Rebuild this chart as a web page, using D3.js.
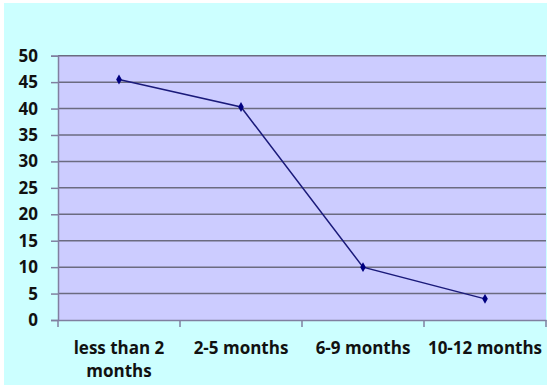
<!DOCTYPE html>
<html>
<head>
<meta charset="utf-8">
<script src="https://cdn.jsdelivr.net/npm/d3@7"></script>
<style>
  body { margin: 0; background: #ffffff; }
  svg { display: block; }
</style>
</head>
<body>
<svg id="chart"></svg>
<script>
const width = 550;
const height = 390;

const categories = ["less than 2 months", "2-5 months", "6-9 months", "10-12 months"];
const values = [45.5, 40.3, 10, 4];
const yTicks = [0, 5, 10, 15, 20, 25, 30, 35, 40, 45, 50];

const svg = d3.select("#chart").attr("width", width).attr("height", height);

// outer chart background
svg.append("rect").attr("x", 4).attr("y", 3).attr("width", 543).attr("height", 382).attr("fill", "#ccffff");

const plotLeft = 58, plotRight = 546, plotTop = 55.7, plotBottom = 320;

const x = d3.scaleBand().domain(categories).range([plotLeft, plotRight]);
const y = d3.scaleLinear().domain([0, 50]).range([plotBottom, plotTop]);

svg.append("rect")
    .attr("x", plotLeft).attr("y", y(50))
    .attr("width", plotRight - plotLeft).attr("height", y(0) - y(50))
    .attr("fill", "#ccccff");

// gridlines
svg.selectAll(".grid").data(yTicks.filter(d => d > 0)).enter().append("line")
    .attr("class", "grid")
    .attr("x1", plotLeft).attr("x2", plotRight)
    .attr("y1", d => y(d)).attr("y2", d => y(d))
    .attr("stroke", "#6b6b80").attr("stroke-width", 1.5);

// y axis
const yAxis = svg.append("g").attr("transform", `translate(${plotLeft},0)`)
    .call(d3.axisLeft(y).tickValues(yTicks).tickSize(7).tickPadding(13));
yAxis.select(".domain").attr("stroke", "#8080a0").attr("stroke-width", 1.5);
yAxis.selectAll(".tick line").attr("stroke", "#8080a0").attr("stroke-width", 1.5);
yAxis.selectAll("text")
    .attr("fill", "#111")
    .style("font-family", "'Open Sans', 'DejaVu Sans', sans-serif")
    .style("font-weight", "bold")
    .style("font-size", "17px");

// x axis
const xAxis = svg.append("g").attr("transform", `translate(0,${plotBottom})`)
    .call(d3.axisBottom(x).tickSize(0).tickFormat(""));
xAxis.select(".domain").attr("stroke", "#8080a0").attr("stroke-width", 1.5);
xAxis.selectAll(".tick").remove();

const xBounds = categories.map(c => x(c)).concat([plotRight]);
svg.selectAll(".xtick").data(xBounds).enter().append("line")
    .attr("class", "xtick")
    .attr("x1", d => d).attr("x2", d => d)
    .attr("y1", plotBottom).attr("y2", plotBottom + 7)
    .attr("stroke", "#8080a0").attr("stroke-width", 1.5);

const labelLines = {
    "less than 2 months": ["less than 2", "months"]
};
const xLabels = svg.selectAll(".xlabel").data(categories).enter().append("text")
    .attr("class", "xlabel")
    .attr("x", d => x(d) + x.bandwidth() / 2)
    .attr("y", 354)
    .attr("text-anchor", "middle")
    .attr("fill", "#111")
    .style("font-family", "'Open Sans', 'DejaVu Sans', sans-serif")
    .style("font-weight", "bold")
    .style("font-size", "17px");
xLabels.each(function(d) {
    const lines = labelLines[d] || [d];
    const t = d3.select(this);
    lines.forEach((ln, i) => {
        t.append("tspan").attr("x", x(d) + x.bandwidth() / 2).attr("dy", i === 0 ? 0 : 23).text(ln);
    });
});

// line
const line = d3.line().x((d, i) => x(categories[i]) + x.bandwidth() / 2).y(d => y(d));
svg.append("path").datum(values)
    .attr("d", line)
    .attr("fill", "none")
    .attr("stroke", "#1a1a7a")
    .attr("stroke-width", 1.5);

svg.selectAll(".marker").data(values).enter().append("path")
    .attr("class", "marker")
    .attr("transform", (d, i) => `translate(${x(categories[i]) + x.bandwidth() / 2},${y(d)})`)
    .attr("d", d3.symbol().type(d3.symbolDiamond).size(28))
    .attr("fill", "#000080");
</script>
</body>
</html>
